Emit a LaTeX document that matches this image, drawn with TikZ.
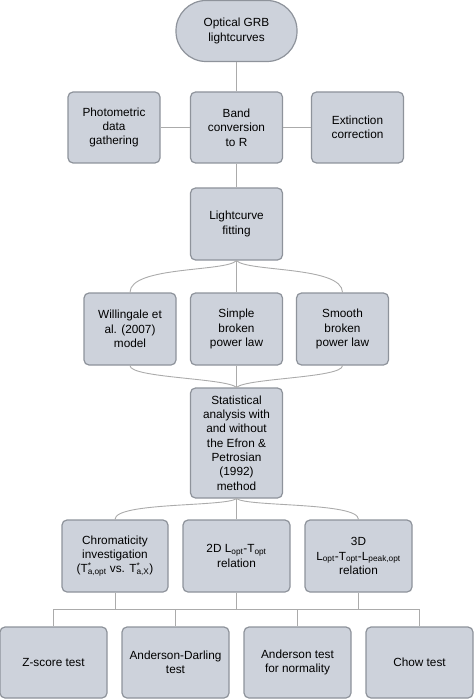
\documentclass[tikz,border=0pt]{standalone}
\usepackage{fontspec}
\setmainfont{Liberation Sans}
\definecolor{boxfill}{HTML}{CDD2DB}
\definecolor{boxline}{HTML}{8E939B}
\definecolor{conn}{HTML}{ABABAB}
\newcommand{\sbx}[1]{\textsubscript{#1}}
\newcommand{\Tstar}[1]{T\rlap{\textsuperscript{*}}\textsubscript{#1}}
\begin{document}
\begin{tikzpicture}[x=1pt,y=-1pt,
  box/.style={draw=boxline,fill=boxfill,line width=1.2pt,rounded corners=5pt,
    align=center,inner sep=0pt,font=\fontsize{11.8}{14.3}\selectfont,
    minimum width=92pt,minimum height=71pt},
  wbox/.style={box,minimum width=107pt},
  link/.style={draw=conn,line width=0.9pt}]
\useasboundingbox (0,0) rectangle (474,700);
% nodes
\node[box,rounded corners=30pt,minimum width=121pt,minimum height=61pt] (top) at (236.5,31) {Optical GRB\\lightcurves};
\node[box] (phot) at (114,127.5) {Photometric\\data\\gathering};
\node[box] (band) at (236.5,127.5) {Band\\conversion\\to R};
\node[box] (ext) at (357.5,127.5) {Extinction\\correction};
\node[box,minimum height=72pt] (fit) at (236.5,224) {Lightcurve\\fitting};
\node[box,minimum height=72pt] (will) at (130,329) {Willingale et\\al. (2007)\\model};
\node[box,minimum height=72pt] (sbpl) at (236.5,329) {Simple\\broken\\power law};
\node[box,minimum height=72pt] (smbpl) at (342.5,329) {Smooth\\broken\\power law};
\node[box,minimum height=110pt] (stat) at (236.5,443) {Statistical\\analysis with\\and without\\the Efron \&\\Petrosian\\(1992)\\method};
\node[box,minimum width=106pt,minimum height=72pt] (chrom) at (115,556) {Chromaticity\\investigation\\(\Tstar{a,opt} vs. \Tstar{a,X})};
\node[wbox,minimum height=72pt] (twod) at (236.5,556) {2D L\sbx{opt}-T\sbx{opt}\\relation};
\node[wbox,minimum height=72pt] (threed) at (358.5,556) {3D\\L\sbx{opt}-T\sbx{opt}-L\sbx{peak,opt}\\relation};
\node[wbox] (z) at (53.5,662.5) {Z-score test};
\node[wbox] (ad) at (175.5,662.5) {Anderson-Darling\\test};
\node[wbox] (an) at (297.5,662.5) {Anderson test\\for normality};
\node[wbox] (chow) at (419.5,662.5) {Chow test};
\coordinate (busL) at (53.5,609);
\coordinate (busR) at (419.5,609);
% connectors
\path[link] (top.south) -- (band.north);
\path[link] (phot.east) -- (band.west);
\path[link] (band.east) -- (ext.west);
\path[link] (band.south) -- (fit.north);
\path[link] (fit.south) .. controls (226,272) and (130,266) .. (will.north);
\path[link] (fit.south) -- (sbpl.north);
\path[link] (fit.south) .. controls (247,272) and (342.5,266) .. (smbpl.north);
\path[link] (will.south) .. controls (130,378) and (226,378) .. (stat.north);
\path[link] (sbpl.south) -- (stat.north);
\path[link] (smbpl.south) .. controls (342.5,378) and (247,378) .. (stat.north);
\path[link] (stat.south) .. controls (225,507) and (115,502) .. (chrom.north);
\path[link] (stat.south) -- (twod.north);
\path[link] (stat.south) .. controls (248,507) and (358.5,502) .. (threed.north);
\path[link] (busL) -- (busR);
\path[link] (chrom.south) -- (chrom.south |- busL);
\path[link] (twod.south) -- (twod.south |- busL);
\path[link] (threed.south) -- (threed.south |- busL);
\path[link] (busL) -- (z.north);
\path[link] (ad.north |- busL) -- (ad.north);
\path[link] (an.north |- busL) -- (an.north);
\path[link] (busR) -- (chow.north);
\end{tikzpicture}
\end{document}
